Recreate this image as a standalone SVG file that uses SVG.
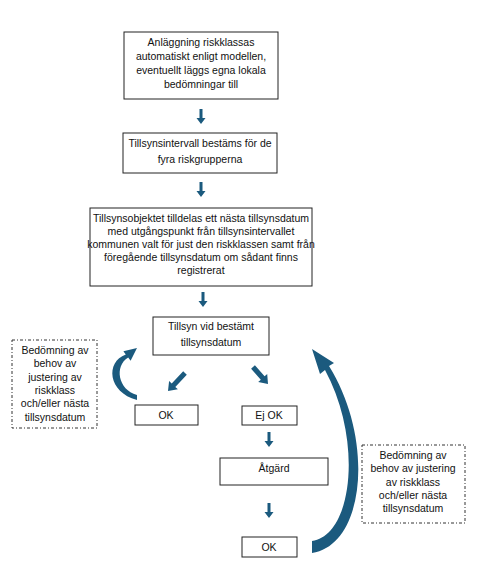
<svg xmlns="http://www.w3.org/2000/svg" width="481" height="577" viewBox="0 0 481 577">
<style>
.box{fill:#fff;stroke:#222;stroke-width:1}
.dbox{fill:#fff;stroke:#333;stroke-width:1;stroke-dasharray:3 2 1 2}
text{font-family:"Liberation Sans",Arial,sans-serif;font-size:10.5px;fill:#111;text-anchor:middle}
.arr{fill:#1b5a7e}
</style>
<defs>
<path id="down" d="M-1.5 0 H1.5 V9 H4.5 L0 15 L-4.5 9 H-1.5 Z"/>
</defs>
<g id="n1">
<rect class="box" x="124" y="32" width="154" height="67"/>
<text x="201" y="46">Anläggning riskklassas</text>
<text x="201" y="60">automatiskt enligt modellen,</text>
<text x="201" y="74">eventuellt läggs egna lokala</text>
<text x="201" y="88">bedömningar till</text>
</g>
<g id="n2">
<rect class="box" x="123" y="133" width="154" height="40"/>
<text x="200" y="147">Tillsynsintervall bestäms för de</text>
<text x="200" y="163">fyra riskgrupperna</text>
</g>
<g id="n3">
<rect class="box" x="90" y="208" width="222" height="78"/>
<text x="201" y="222">Tillsynsobjektet tilldelas ett nästa tillsynsdatum</text>
<text x="201" y="235">med utgångspunkt från tillsynsintervallet</text>
<text x="201" y="248">kommunen valt för just den riskklassen samt från</text>
<text x="201" y="261">föregående tillsynsdatum om sådant finns</text>
<text x="201" y="274">registrerat</text>
</g>
<g id="n4">
<rect class="box" x="153" y="317" width="116" height="38"/>
<text x="211" y="330">Tillsyn vid bestämt</text>
<text x="211" y="346">tillsynsdatum</text>
</g>
<g id="n5">
<rect class="dbox" x="12" y="340" width="85" height="88"/>
<text x="55" y="354">Bedömning av</text>
<text x="55" y="367">behov av</text>
<text x="55" y="381">justering av</text>
<text x="55" y="394">riskklass</text>
<text x="55" y="407">och/eller nästa</text>
<text x="55" y="421">tillsynsdatum</text>
</g>
<g id="n6">
<rect class="box" x="135" y="405" width="63" height="20"/>
<text x="166" y="419">OK</text>
</g>
<g id="n7">
<rect class="box" x="242" y="406" width="55" height="19"/>
<text x="269" y="419">Ej OK</text>
</g>
<g id="n8">
<rect class="box" x="220" y="458" width="108" height="27"/>
<text x="274" y="472">Åtgärd</text>
</g>
<g id="n9">
<rect class="box" x="242" y="537" width="55" height="20"/>
<text x="269" y="551">OK</text>
</g>
<g id="n10">
<rect class="dbox" x="362" y="445" width="103" height="78"/>
<text x="413" y="459">Bedömning av</text>
<text x="413" y="472">behov av justering</text>
<text x="413" y="486">av riskklass</text>
<text x="413" y="499">och/eller nästa</text>
<text x="413" y="512">tillsynsdatum</text>
</g>
<g id="connectors" class="arr">
<use href="#down" x="201" y="109"/>
<use href="#down" x="201" y="182"/>
<use href="#down" x="203" y="292"/>
<use href="#down" x="269" y="432"/>
<use href="#down" x="269" y="503"/>
<path d="M186.8 374.7 L175.3 386.9 L177.9 389.3 L168 391 L169.1 381.1 L171.7 383.5 L183.2 371.3 Z"/>
<path d="M254.9 365.3 L264.6 376.3 L267.2 374 L268 384 L258.2 382 L260.8 379.7 L251.1 368.7 Z"/>
<path d="M137 400 C108 392 105 362 125.8 354.4 L123.4 351.2 L137 348 L130.6 360.8 L128.2 357.6 C114 366 118 390 137 395 Z"/>
<path d="M312 553 C365 545 375 440 329 366 L334 363 L312 349 L320 374 L325 370 C363 440 353 535 312 541 Z"/>
</g>
</svg>
